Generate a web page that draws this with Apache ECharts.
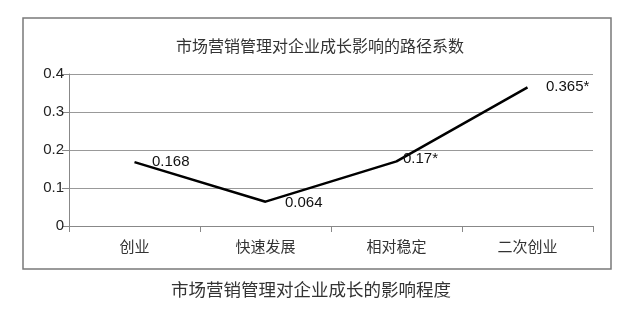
<!DOCTYPE html>
<html><head><meta charset="utf-8">
<script src="https://cdn.jsdelivr.net/npm/echarts@6/dist/echarts.min.js"></script>
<style>html,body{margin:0;padding:0;background:#fff}#c{width:640px;height:315px}</style>
</head><body><div id="c"></div>
<script>
var categories = ['创业', '快速发展', '相对稳定', '二次创业'];
var values = [0.168, 0.064, 0.17, 0.365];
var pointLabels = ['0.168', '0.064', '0.17*', '0.365*'];
var yTicks = [0, 0.1, 0.2, 0.3, 0.4];
var chartTitle = '市场营销管理对企业成长影响的路径系数';
var caption = '市场营销管理对企业成长的影响程度';

var labelOffsets = [[12, 0], [14, 1], [1, -3], [13, 0]];
var chart = echarts.init(document.getElementById('c'));
chart.setOption({
  animation: false,
  title: {text: chartTitle, left: 'center', top: 33,
    textStyle: {fontFamily: 'Noto Sans CJK SC', fontSize: 16, fontWeight: 'normal', color: '#333'}},
  graphic: [
    {type: 'rect', shape: {x: 23, y: 18, width: 588, height: 251}, style: {fill: 'none', stroke: '#7a7a7a', lineWidth: 1.5}, z: -1},
    {type: 'text', left: 171, top: 281, style: {text: caption, fontFamily: 'Noto Sans CJK SC', fontSize: 17.5, fill: '#333'}}
  ],
  grid: {left: 69, right: 47, top: 74, bottom: 89},
  xAxis: {type: 'category', data: categories, boundaryGap: true,
    axisLine: {lineStyle: {color: '#888', width: 1}},
    axisTick: {show: true, length: 6, lineStyle: {color: '#888'}},
    axisLabel: {margin: 13, fontFamily: 'Noto Sans CJK SC', fontSize: 15, color: '#333'}},
  yAxis: {type: 'value', min: 0, max: 0.4, interval: 0.1,
    axisLine: {show: true, lineStyle: {color: '#888', width: 1}},
    axisTick: {show: true, length: 7, lineStyle: {color: '#888'}},
    axisLabel: {margin: 5, fontFamily: 'Liberation Sans', fontSize: 15, color: '#222',
      formatter: function(v){ var i = yTicks.indexOf(Math.round(v*10)/10); return i>=0 ? String(yTicks[i]) : ''; }},
    splitLine: {lineStyle: {color: '#999', width: 1}}},
  series: [{type: 'line', data: values.map(function(v, i){
      return {value: v, label: {offset: labelOffsets[i]}};
    }), showSymbol: true, symbol: 'circle', symbolSize: 1,
    itemStyle: {color: 'rgba(0,0,0,0)'},
    lineStyle: {color: '#000', width: 2.5},
    label: {show: true, position: 'right', fontFamily: 'Liberation Sans', fontSize: 15, color: '#111',
      formatter: function(p){ return pointLabels[p.dataIndex]; }}}]
});
</script></body></html>
